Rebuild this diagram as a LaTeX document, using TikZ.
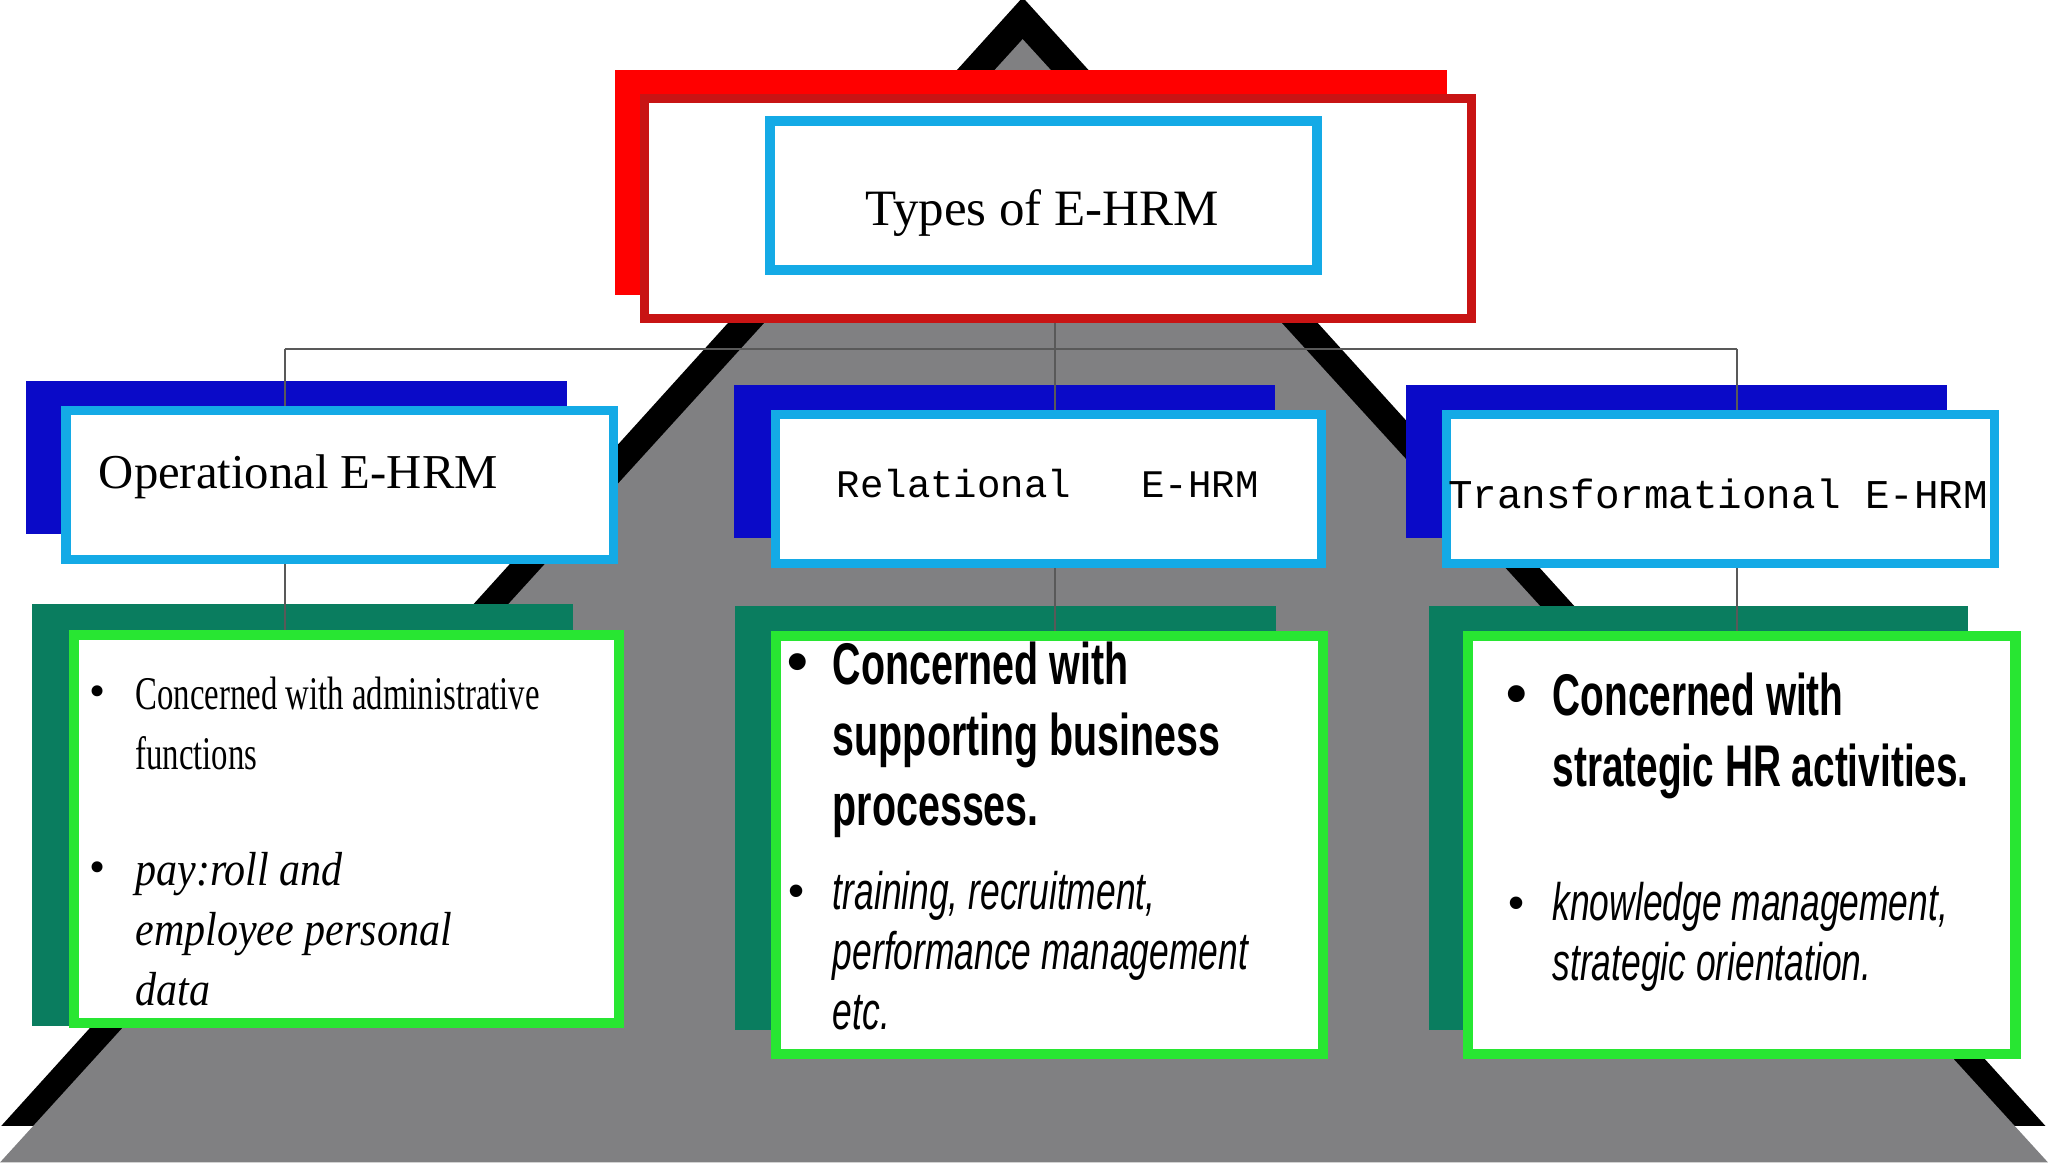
\documentclass[tikz,border=0pt]{standalone}
\usepackage{fontspec}
\setmainfont{Liberation Serif}
\newfontfamily\csans{Liberation Sans}
\newfontfamily\monof{Liberation Mono}
\definecolor{shblue}{RGB}{10,10,200}
\definecolor{shteal}{RGB}{10,125,95}
\definecolor{bcyan}{RGB}{20,170,230}
\definecolor{bgreen}{RGB}{40,230,50}
\definecolor{dred}{RGB}{200,20,20}
\definecolor{tri}{RGB}{128,128,130}
\newcommand{\sqz}[2]{\scalebox{#1}[1]{\begin{tabular}[t]{@{}l@{}}#2\end{tabular}}}
\begin{document}
\begin{tikzpicture}[x=0.01cm,y=-0.01cm,
  box/.style={draw,fill=white,anchor=north west,inner sep=0pt},
  shade/.style={anchor=north west,inner sep=0pt},
  conn/.style={draw=gray!70!black,line width=0.5pt},
  txt/.style={anchor=base west,inner sep=0pt}]
\useasboundingbox (0,0) rectangle (1568,897);
\fill[white] (0,0) rectangle (1568,897);
% pyramid
\fill[black] (783,-2) -- (1,862) -- (1566,862) -- cycle;
\fill[tri] (783,30) -- (0,890) -- (1568,890) -- cycle;
% top
\node[shade,fill=red,minimum width=6.37cm,minimum height=1.72cm] (topsh) at (470,53) {};
\node[box,draw=dred,line width=2pt,minimum width=6.33cm,minimum height=1.68cm] (top) at (490,72) {};
\node[box,draw=bcyan,line width=2.2pt,minimum width=4.18cm,minimum height=1.14cm] (title) at (586,89) {};
\node[anchor=base,inner sep=0pt,font=\fontsize{11.1}{13}\selectfont] (tt) at (798,173) {Types of E-HRM};
% connectors
\coordinate (j) at (808,267);
\coordinate (jl) at (218,267);
\coordinate (jr) at (1330,267);
% level 2
\node[shade,fill=shblue,minimum width=4.14cm,minimum height=1.17cm] at (19,291) {};
\node[shade,fill=shblue,minimum width=4.14cm,minimum height=1.17cm] at (561,294) {};
\node[shade,fill=shblue,minimum width=4.14cm,minimum height=1.17cm] at (1076,294) {};
\node[box,draw=bcyan,line width=2pt,minimum width=4.19cm,minimum height=1.14cm] (op) at (47,311) {};
\node[box,draw=bcyan,line width=2pt,minimum width=4.18cm,minimum height=1.14cm] (rel) at (590,314) {};
\node[box,draw=bcyan,line width=2pt,minimum width=4.19cm,minimum height=1.14cm] (tr) at (1104,314) {};
\node[txt,font=\fontsize{10.6}{12}\selectfont] (opt) at (75,374) {Operational E-HRM};
\node[txt,font=\monof\fontsize{8.5}{10}\selectfont] (relt) at (640,381) {Relational\ \ \ E-HRM};
\node[txt,font=\monof\fontsize{8.9}{10}\selectfont] (trt) at (1108,389) {Transformational E-HRM};
% level 3
\node[shade,fill=shteal,minimum width=4.14cm,minimum height=3.23cm] at (24,462) {};
\node[shade,fill=shteal,minimum width=4.14cm,minimum height=3.25cm] at (562,463) {};
\node[shade,fill=shteal,minimum width=4.13cm,minimum height=3.25cm] at (1093,463) {};
\node[box,draw=bgreen,line width=2.2pt,minimum width=4.17cm,minimum height=2.97cm] (opd) at (53,482) {};
\node[box,draw=bgreen,line width=2.2pt,minimum width=4.19cm,minimum height=3.20cm] (reld) at (590,483) {};
\node[box,draw=bgreen,line width=2.2pt,minimum width=4.19cm,minimum height=3.20cm] (trd) at (1120,483) {};
\draw[conn] (top.south -| j) -- (j);
\draw[conn] (jl) -- (jr);
\draw[conn] (jl) -- (jl |- op.north);
\draw[conn] (j) -- (j |- rel.north);
\draw[conn] (jr) -- (jr |- tr.north);
\draw[conn] (op.south -| jl) -- (opd.north -| jl);
\draw[conn] (rel.south -| j) -- (reld.north -| j);
\draw[conn] (tr.south -| jr) -- (trd.north -| jr);
% left texts
\node[txt,font=\fontsize{10}{13}\selectfont] (b1) at (68,541) {\textbullet};
\node[txt,font=\fontsize{10.2}{13.1}\selectfont] (t1) at (103,543) {\sqz{0.70}{Concerned with administrative\\functions}};
\node[txt,font=\fontsize{10}{13}\selectfont] (b2) at (68,676) {\textbullet};
\node[txt,font=\itshape\fontsize{10.4}{13.1}\selectfont] (t2) at (103,678) {\sqz{0.88}{pay:roll and\\employee personal\\data}};
% middle texts
\node[txt,font=\csans\bfseries\fontsize{12.8}{15.4}\selectfont] (b3) at (602,522) {\textbullet};
\node[txt,font=\csans\bfseries\fontsize{12.8}{15.4}\selectfont] (t3) at (637,524) {\sqz{0.67}{Concerned with\\supporting business\\processes.}};
\node[txt,font=\csans\fontsize{10}{13}\selectfont] (b4) at (603,694) {\textbullet};
\node[txt,font=\csans\itshape\fontsize{11.5}{13.1}\selectfont] (t4) at (637,696) {\sqz{0.67}{training, recruitment,\\performance management\\etc.}};
% right texts
\node[txt,font=\csans\bfseries\fontsize{12.8}{15.4}\selectfont] (b5) at (1153,546) {\textbullet};
\node[txt,font=\csans\bfseries\fontsize{12.8}{15.4}\selectfont] (t5) at (1188,548) {\sqz{0.66}{Concerned with\\strategic HR activities.}};
\node[txt,font=\csans\fontsize{10}{13}\selectfont] (b6) at (1154,703) {\textbullet};
\node[txt,font=\csans\itshape\fontsize{11.5}{13.1}\selectfont] (t6) at (1188,705) {\sqz{0.67}{knowledge management,\\strategic orientation.}};
\end{tikzpicture}
\end{document}
